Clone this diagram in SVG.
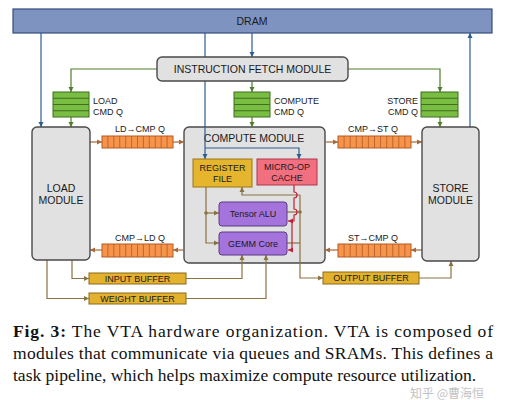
<svg xmlns="http://www.w3.org/2000/svg" width="510" height="400" viewBox="0 0 510 400">
<style>
.mod{fill:#e1e1e1;stroke:#4a4a4a;stroke-width:1.4}
.lbl{font-family:"Liberation Sans",Arial,sans-serif;fill:#1a1a1a;text-anchor:middle}
.sm{font-size:9px}
.md{font-size:10.5px}
.cmdq{fill:#79bd43;stroke:#3f6f1f;stroke-width:1}
.oq{fill:#f7944c;stroke:#b35a22;stroke-width:1}
.buf{fill:#e3b12e;stroke:#8a6a18;stroke-width:1}
.c{fill:none;stroke-width:1.2}
.blue{stroke:#2c5d8f}
.green{stroke:#4f7d2a}
.org{stroke:#a8683a}
.olv{stroke:#8a7242}
.red{stroke:#c0203a}
.cap{font-family:"Liberation Serif","Times New Roman",serif;font-size:17.5px;fill:#111}
</style>
<defs>
<marker id="aB" markerWidth="6" markerHeight="6" refX="5" refY="3" orient="auto" markerUnits="userSpaceOnUse"><path d="M0,0.5 L5,3 L0,5.5z" fill="#2c5d8f"/></marker>
<marker id="aG" markerWidth="6" markerHeight="6" refX="5" refY="3" orient="auto" markerUnits="userSpaceOnUse"><path d="M0,0.5 L5,3 L0,5.5z" fill="#4f7d2a"/></marker>
<marker id="aO" markerWidth="6" markerHeight="6" refX="5" refY="3" orient="auto" markerUnits="userSpaceOnUse"><path d="M0,0.5 L5,3 L0,5.5z" fill="#a8683a"/></marker>
<marker id="aL" markerWidth="6" markerHeight="6" refX="5" refY="3" orient="auto" markerUnits="userSpaceOnUse"><path d="M0,0.5 L5,3 L0,5.5z" fill="#8a7242"/></marker>
<marker id="aR" markerWidth="6" markerHeight="6" refX="5" refY="3" orient="auto" markerUnits="userSpaceOnUse"><path d="M0,0.5 L5,3 L0,5.5z" fill="#c0203a"/></marker>
</defs>
<rect width="510" height="400" fill="#ffffff"/>

<g id="dram">
<rect x="13" y="9" width="479" height="24" fill="#7f93c0" stroke="#344e7c" stroke-width="1.2"/>
<text class="lbl md" x="252" y="25">DRAM</text>
</g>

<g id="compute-module">
<rect class="mod" x="184" y="127" width="141" height="136" rx="5" fill="#dcdcdc"/>
<text class="lbl md" x="254" y="142">COMPUTE MODULE</text>
</g>

<g id="connectors">
<path class="c blue" d="M41,33 V127" marker-end="url(#aB)"/>
<path class="c blue" d="M205,33 V159" marker-end="url(#aB)"/>
<path class="c blue" d="M205,148 H299 V159" marker-end="url(#aB)"/>
<path class="c blue" d="M252,33 V57" marker-end="url(#aB)"/>
<path class="c blue" d="M470,127 V33" marker-end="url(#aB)"/>
<path class="c green" d="M157,69 H71 V92" marker-end="url(#aG)"/>
<path class="c green" d="M252,81 V92" marker-end="url(#aG)"/>
<path class="c green" d="M348,69 H440 V92" marker-end="url(#aG)"/>
<path class="c green" d="M71,117 V127" marker-end="url(#aG)"/>
<path class="c green" d="M252,117 V127" marker-end="url(#aG)"/>
<path class="c green" d="M440,117 V127" marker-end="url(#aG)"/>
<path class="c org" d="M90,142 H102" marker-end="url(#aO)"/>
<path class="c org" d="M173,142 H184" marker-end="url(#aO)"/>
<path class="c org" d="M184,250 H173" marker-end="url(#aO)"/>
<path class="c org" d="M102,250 H90" marker-end="url(#aO)"/>
<path class="c org" d="M325,142 H338" marker-end="url(#aO)"/>
<path class="c org" d="M411,142 H422" marker-end="url(#aO)"/>
<path class="c org" d="M422,250 H411" marker-end="url(#aO)"/>
<path class="c org" d="M338,250 H325" marker-end="url(#aO)"/>
<path class="c olv" d="M72,260 V278.5 H89" marker-end="url(#aL)"/>
<path class="c olv" d="M47,260 V298.5 H89" marker-end="url(#aL)"/>
<path class="c olv" d="M186,278.5 H242 V255" marker-end="url(#aL)"/>
<path class="c olv" d="M186,298.5 H266 V255" marker-end="url(#aL)"/>
<path class="c olv" d="M300,195 H242 V187" marker-end="url(#aL)"/>
<path class="c olv" d="M300,195 V278 H323" marker-end="url(#aL)"/>
<path class="c olv" d="M287,212 H300"/>
<path class="c olv" d="M287,243 H300"/>
<path class="c olv" d="M206,187 V243 H219" marker-end="url(#aL)"/>
<path class="c olv" d="M206,213 H219" marker-end="url(#aL)"/>
<path class="c olv" d="M419,278 H451 V261" marker-end="url(#aL)"/>
<circle cx="300" cy="212" r="1.8" fill="#8a7242"/>
<circle cx="206" cy="213" r="1.8" fill="#8a7242"/>
<path class="c red" d="M294,185 V192 a3,3 0 0 1 0,6 V209 a3,3 0 0 1 0,6 V221 H288" marker-end="url(#aR)"/>
<path class="c red" d="M292,221 V250 H288" marker-end="url(#aR)"/>
</g>

<g id="instruction-fetch">
<rect class="mod" x="157" y="57" width="191" height="24" rx="5" fill="#e2e2e2"/>
<text class="lbl md" x="252.5" y="73">INSTRUCTION FETCH MODULE</text>
</g>

<g id="load-cmd-q">
<rect class="cmdq" x="53" y="92" width="36" height="25"/>
<path d="M53,98.25 H89 M53,104.5 H89 M53,110.75 H89" stroke="#3f6f1f" stroke-width="1"/>
<text class="lbl sm" x="93" y="104" style="text-anchor:start">LOAD</text>
<text class="lbl sm" x="93" y="115" style="text-anchor:start">CMD Q</text>
</g>

<g id="compute-cmd-q">
<rect class="cmdq" x="234" y="92" width="36" height="25"/>
<path d="M234,98.25 H270 M234,104.5 H270 M234,110.75 H270" stroke="#3f6f1f" stroke-width="1"/>
<text class="lbl sm" x="274" y="104" style="text-anchor:start">COMPUTE</text>
<text class="lbl sm" x="274" y="115" style="text-anchor:start">CMD Q</text>
</g>

<g id="store-cmd-q">
<rect class="cmdq" x="421" y="92" width="37" height="25"/>
<path d="M421,98.25 H458 M421,104.5 H458 M421,110.75 H458" stroke="#3f6f1f" stroke-width="1"/>
<text class="lbl sm" x="418" y="104" style="text-anchor:end">STORE</text>
<text class="lbl sm" x="418" y="115" style="text-anchor:end">CMD Q</text>
</g>

<g id="load-module">
<rect class="mod" x="32" y="127" width="58" height="133" rx="5"/>
<text class="lbl md" x="61" y="192">LOAD</text>
<text class="lbl md" x="61" y="204">MODULE</text>
</g>

<g id="store-module">
<rect class="mod" x="422" y="127" width="57" height="134" rx="5"/>
<text class="lbl md" x="450.5" y="192">STORE</text>
<text class="lbl md" x="450.5" y="204">MODULE</text>
</g>

<g id="ld-cmp-q">
<rect class="oq" x="102" y="136" width="71" height="12"/>
<path d="M107.9,136V148M113.8,136V148M119.75,136V148M125.7,136V148M131.6,136V148M137.5,136V148M143.4,136V148M149.3,136V148M155.25,136V148M161.2,136V148M167.1,136V148" stroke="#b35a22" stroke-width="0.8"/>
<text class="lbl sm" x="140" y="132">LD→CMP Q</text>
</g>

<g id="cmp-ld-q">
<rect class="oq" x="102" y="244" width="71" height="13"/>
<path d="M107.9,244V257M113.8,244V257M119.75,244V257M125.7,244V257M131.6,244V257M137.5,244V257M143.4,244V257M149.3,244V257M155.25,244V257M161.2,244V257M167.1,244V257" stroke="#b35a22" stroke-width="0.8"/>
<text class="lbl sm" x="140" y="241">CMP→LD Q</text>
</g>

<g id="cmp-st-q">
<rect class="oq" x="338" y="136" width="73" height="12"/>
<path d="M344.1,136V148M350.2,136V148M356.25,136V148M362.3,136V148M368.4,136V148M374.5,136V148M380.6,136V148M386.7,136V148M392.75,136V148M398.8,136V148M404.9,136V148" stroke="#b35a22" stroke-width="0.8"/>
<text class="lbl sm" x="373" y="132">CMP→ST Q</text>
</g>

<g id="st-cmp-q">
<rect class="oq" x="338" y="244" width="73" height="13"/>
<path d="M344.1,244V257M350.2,244V257M356.25,244V257M362.3,244V257M368.4,244V257M374.5,244V257M380.6,244V257M386.7,244V257M392.75,244V257M398.8,244V257M404.9,244V257" stroke="#b35a22" stroke-width="0.8"/>
<text class="lbl sm" x="373" y="241">ST→CMP Q</text>
</g>

<g id="register-file">
<rect x="193" y="159" width="59" height="28" fill="#e5b52e" stroke="#9c7414" stroke-width="1"/>
<text class="lbl sm" x="222.5" y="171">REGISTER</text>
<text class="lbl sm" x="222.5" y="182">FILE</text>
</g>

<g id="micro-op-cache">
<rect x="257" y="159" width="60" height="26" fill="#f26f80" stroke="#b0354a" stroke-width="1"/>
<text class="lbl sm" x="287" y="170">MICRO-OP</text>
<text class="lbl sm" x="287" y="181">CACHE</text>
</g>

<g id="tensor-alu">
<rect x="219" y="202" width="68" height="24" rx="3" fill="#a474dc" stroke="#5a3a8a" stroke-width="1"/>
<text class="lbl sm" x="253" y="217">Tensor ALU</text>
</g>

<g id="gemm-core">
<rect x="219" y="232" width="68" height="23" rx="3" fill="#a474dc" stroke="#5a3a8a" stroke-width="1"/>
<text class="lbl sm" x="253" y="247">GEMM Core</text>
</g>

<g id="input-buffer">
<rect class="buf" x="89" y="273" width="97" height="11"/>
<text class="lbl sm" x="137.5" y="281.5">INPUT BUFFER</text>
</g>

<g id="weight-buffer">
<rect class="buf" x="89" y="293" width="97" height="11"/>
<text class="lbl sm" x="137.5" y="301.5">WEIGHT BUFFER</text>
</g>

<g id="output-buffer">
<rect class="buf" x="323" y="272" width="96" height="12"/>
<text class="lbl sm" x="371" y="281">OUTPUT BUFFER</text>
</g>

<g id="caption">
<text class="cap" x="13" y="337" textLength="480" lengthAdjust="spacing"><tspan font-weight="bold">Fig. 3:</tspan> The VTA hardware organization. VTA is composed of</text>
<text class="cap" x="13" y="359" textLength="480" lengthAdjust="spacing">modules that communicate via queues and SRAMs. This defines a</text>
<text class="cap" x="13" y="381">task pipeline, which helps maximize compute resource utilization.</text>
<text x="410" y="398" font-family="'Noto Sans CJK SC',sans-serif" font-size="12" fill="#b8b8b8" opacity="0.85">知乎 @曹海恒</text>
</g>
</svg>
